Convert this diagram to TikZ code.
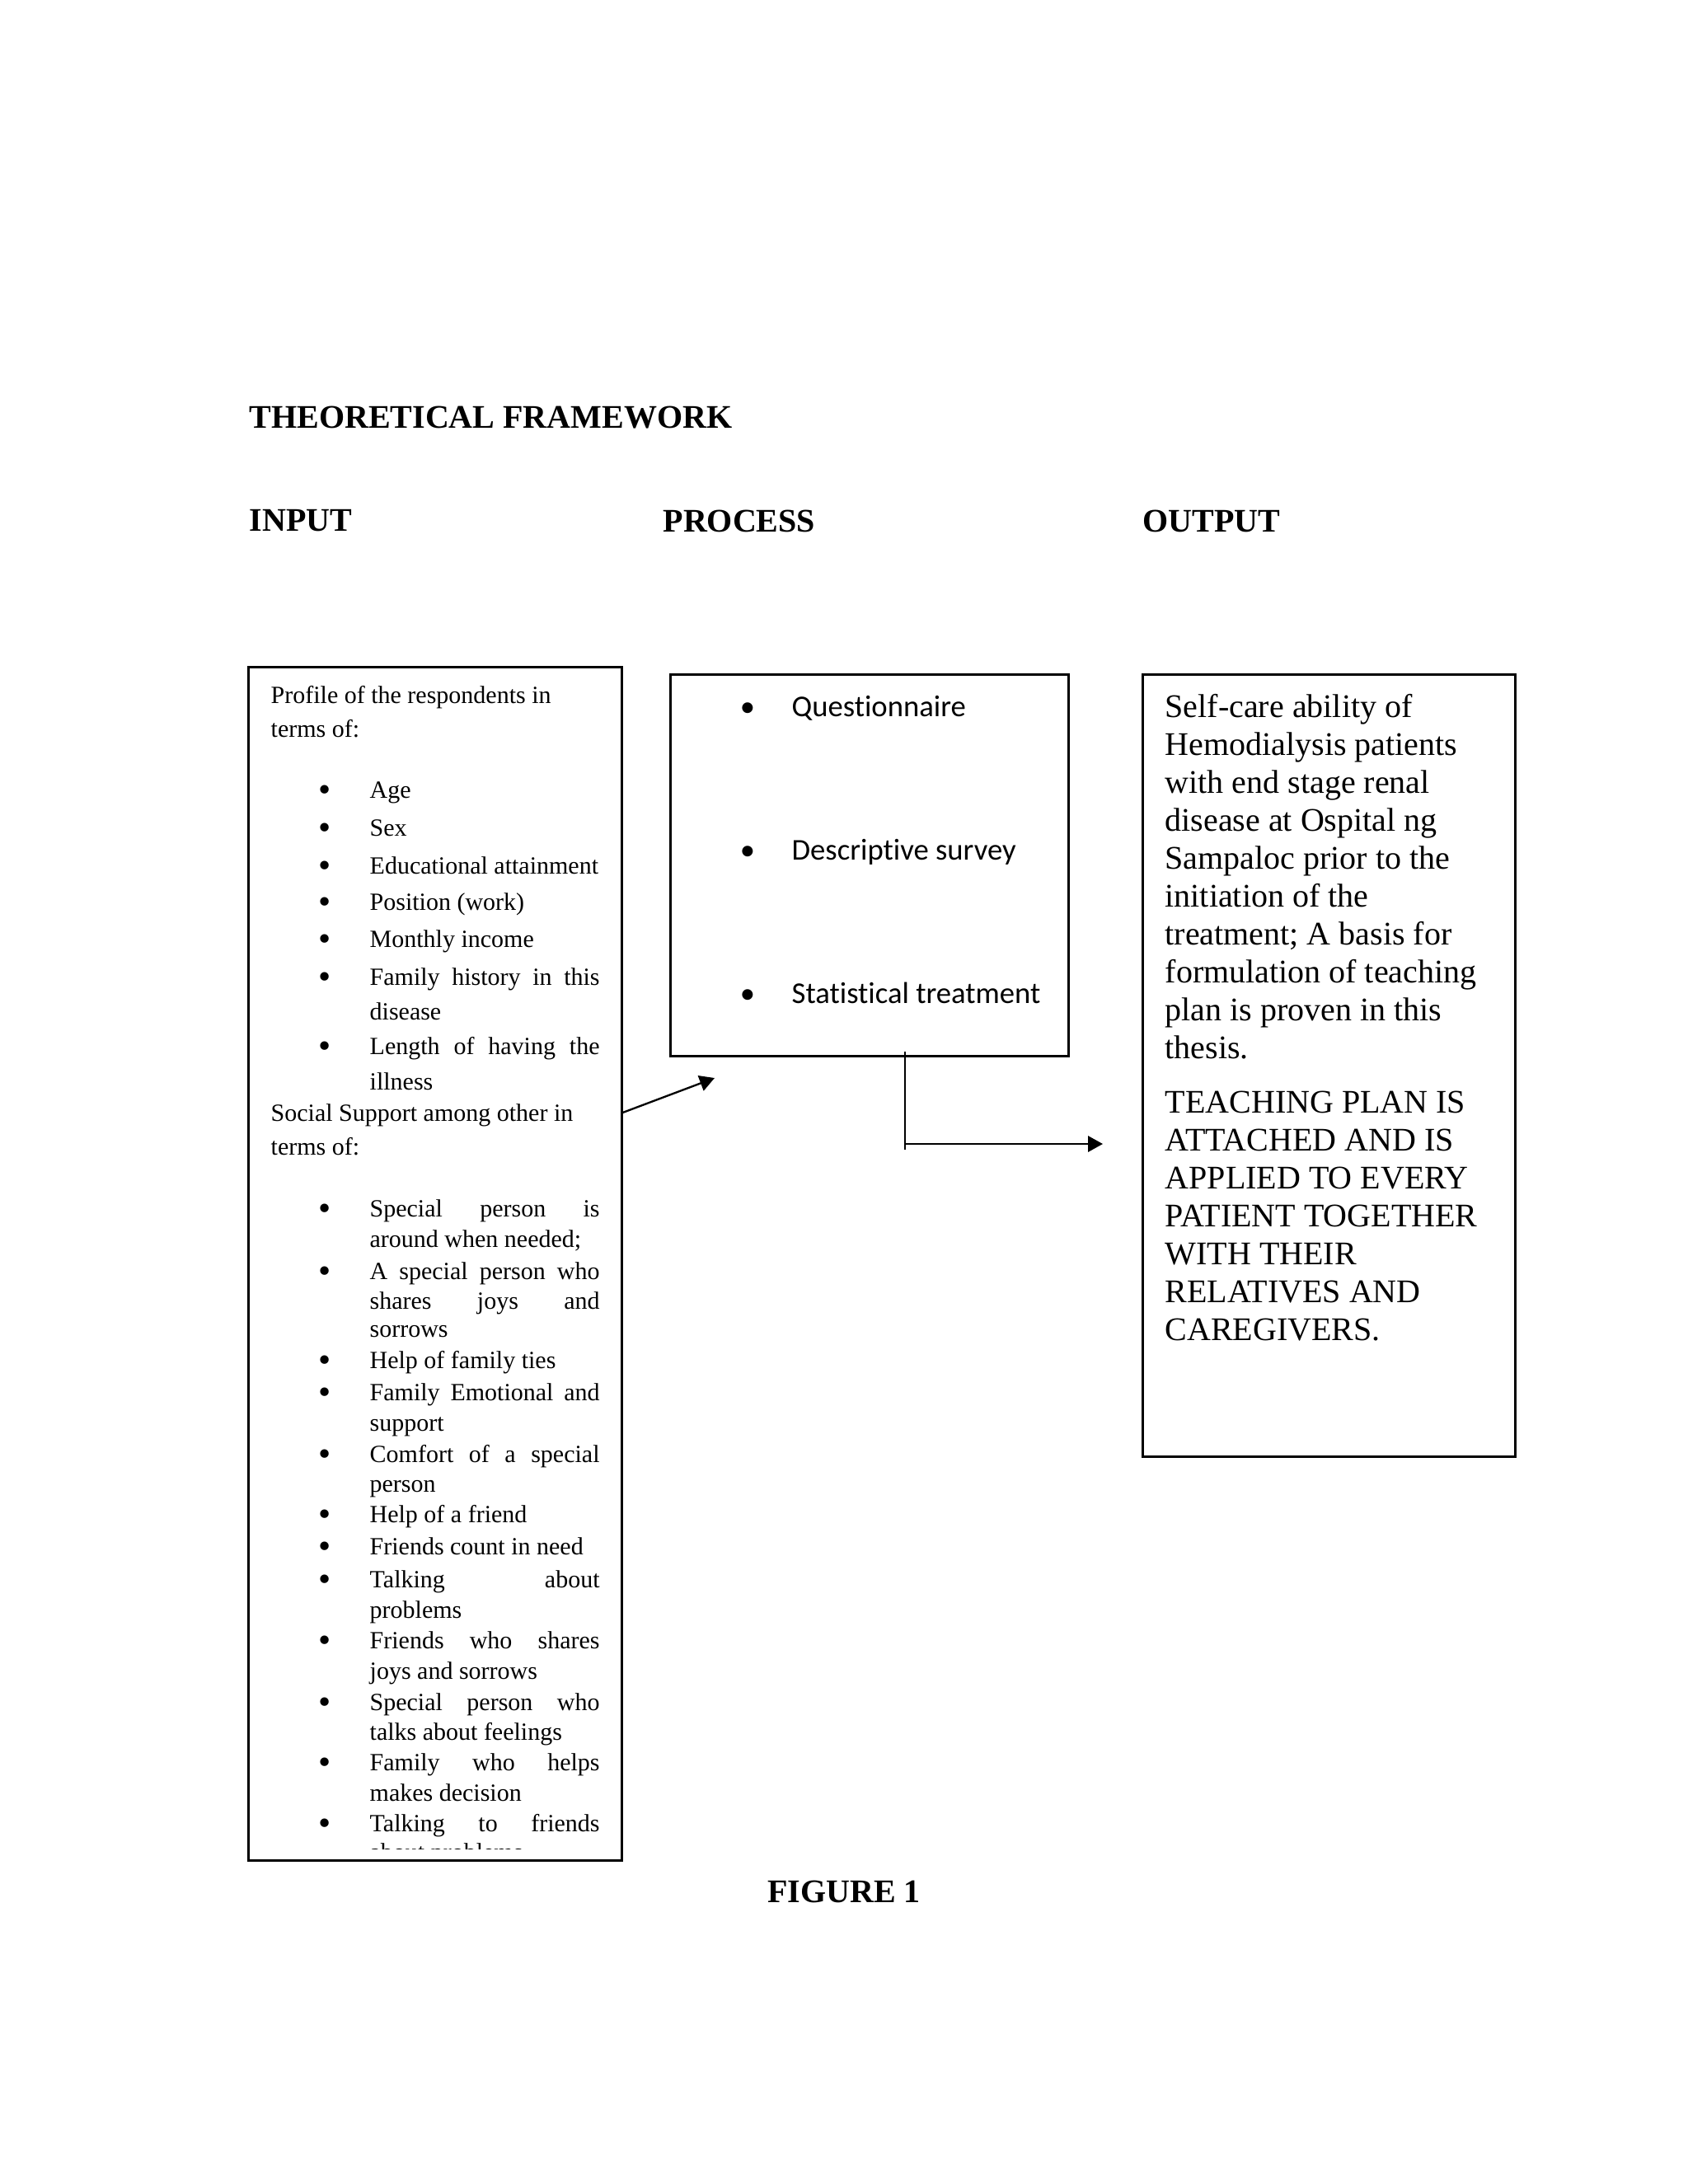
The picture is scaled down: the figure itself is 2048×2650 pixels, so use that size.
\documentclass[tikz,border=0pt]{standalone}
\usepackage{fontspec}
\setmainfont{Liberation Serif}
\newfontfamily\calibfont[Ligatures=NoCommon]{Carlito}
\usetikzlibrary{arrows.meta,fit}
\newcommand\jline[1]{\makebox[2.941cm][s]{#1}}

\begin{document}
\begin{tikzpicture}[
  x=0.010542cm, y=-0.010542cm,
  heading/.style={anchor=west, inner sep=0pt, font=\bfseries\fontsize{12}{14}\selectfont},
  frame/.style={draw, line width=0.9pt, inner sep=0pt},
  inputtext/.style={anchor=mid west, inner sep=0pt, yshift=-1.5pt, font=\fontsize{9}{10}\selectfont},
  processtext/.style={anchor=mid west, inner sep=0pt, yshift=-1.5pt, font=\calibfont\fontsize{11}{13}\selectfont},
  outputtext/.style={anchor=mid west, inner sep=0pt, yshift=-2pt, font=\fontsize{12}{14}\selectfont},
  dot/.style={anchor=mid, inner sep=0pt},
  link/.style={line width=0.7pt},
  arrow/.style={link, -{Triangle[length=5.4pt,width=5.8pt]}}
]
  \useasboundingbox (0,0) rectangle (2048,2650);

  \node[heading] (title) at (302,507) {THEORETICAL FRAMEWORK};
  \node[heading] (input) at (302,632) {INPUT};
  \node[heading] (process) at (804,632) {PROCESS};
  \node[heading] (output) at (1386,632) {OUTPUT};

  \node[frame, fit={(301,809) (754,2257)}] (inbox) {};
  \node[frame, fit={(813,818) (1296,1281)}] (procbox) {};
  \node[frame, fit={(1386,818) (1838,1767)}] (outbox) {};

  \foreach \y/\lbl [count=\i] in {841/Profile of the respondents in, 882/terms of:,
      1348/Social Support among other in, 1389/terms of:}
    \node[inputtext] (intro\i) at (328,\y) {\lbl};

  \foreach \y [count=\i] in {956,1002,1048,1092,1137,1183,1267,1464,1540,1648,1687,
      1762,1835,1874,1914,1988,2063,2136,2210}
    \node[inputtext, dot, yshift=-1.2pt, font=\fontsize{13}{14}\selectfont] (bullet\i) at (394,\y) {\textbullet};

  \foreach \y/\lbl [count=\i] in {956/Age, 1002/Sex, 1048/Educational attainment,
      1092/Position (work), 1137/Monthly income, 1183/\jline{Family history in this},
      1225/disease, 1267/\jline{Length of having the}, 1310/illness,
      1464/\jline{Special person is}, 1501/around when needed;,
      1540/\jline{A special person who}, 1576/\jline{shares joys and}, 1610/sorrows,
      1648/Help of family ties, 1687/\jline{Family Emotional and}, 1724/support,
      1762/\jline{Comfort of a special}, 1798/person, 1835/Help of a friend,
      1874/Friends count in need, 1914/\jline{Talking about}, 1951/problems,
      1988/\jline{Friends who shares}, 2025/joys and sorrows,
      2063/\jline{Special person who}, 2099/talks about feelings,
      2136/\jline{Family who helps}, 2173/makes decision,
      2210/\jline{Talking to friends}}
    \node[inputtext] (item\i) at (448,\y) {\lbl};
  \begin{scope}
    \clip (440,2190) rectangle (740,2243);
    \node[inputtext] (itemcut) at (448,2245) {about problems};
  \end{scope}

  \foreach \y/\lbl [count=\i] in {857/Questionnaire, 1031/Descriptive survey,
      1205/Statistical treatment} {
    \node[processtext, dot] (pdot\i) at (907,\y) {\textbullet};
    \node[processtext] (method\i) at (960,\y) {\lbl};
  }

  \foreach \lbl [count=\i from 0] in {Self-care ability of, Hemodialysis patients,
      with end stage renal, disease at Ospital ng, Sampaloc prior to the,
      initiation of the, treatment; A basis for, formulation of teaching,
      plan is proven in this, thesis.}
    \node[outputtext] (result\i) at (1413,{856+46*\i}) {\lbl};
  \foreach \lbl [count=\i from 0] in {TEACHING PLAN IS, ATTACHED AND IS,
      APPLIED TO EVERY, PATIENT TOGETHER, WITH THEIR, RELATIVES AND, CAREGIVERS.}
    \node[outputtext] (plan\i) at (1413,{1336+46*\i}) {\lbl};

  \node[heading, anchor=center] (figure) at (1024,2295) {FIGURE 1};

  \coordinate (inlevel) at (0,1350);
  \coordinate (intip) at (867,1308);
  \draw[arrow] (inbox.east |- inlevel) -- (intip);

  \coordinate (joint) at (1098,1388);
  \coordinate (drop) at (procbox.south -| joint);
  \coordinate (outtip) at (1338,1388);
  \draw[link] ([yshift=2pt]drop) -- ([yshift=-2pt]joint);
  \draw[arrow] (joint) -- (outtip);
\end{tikzpicture}
\end{document}
